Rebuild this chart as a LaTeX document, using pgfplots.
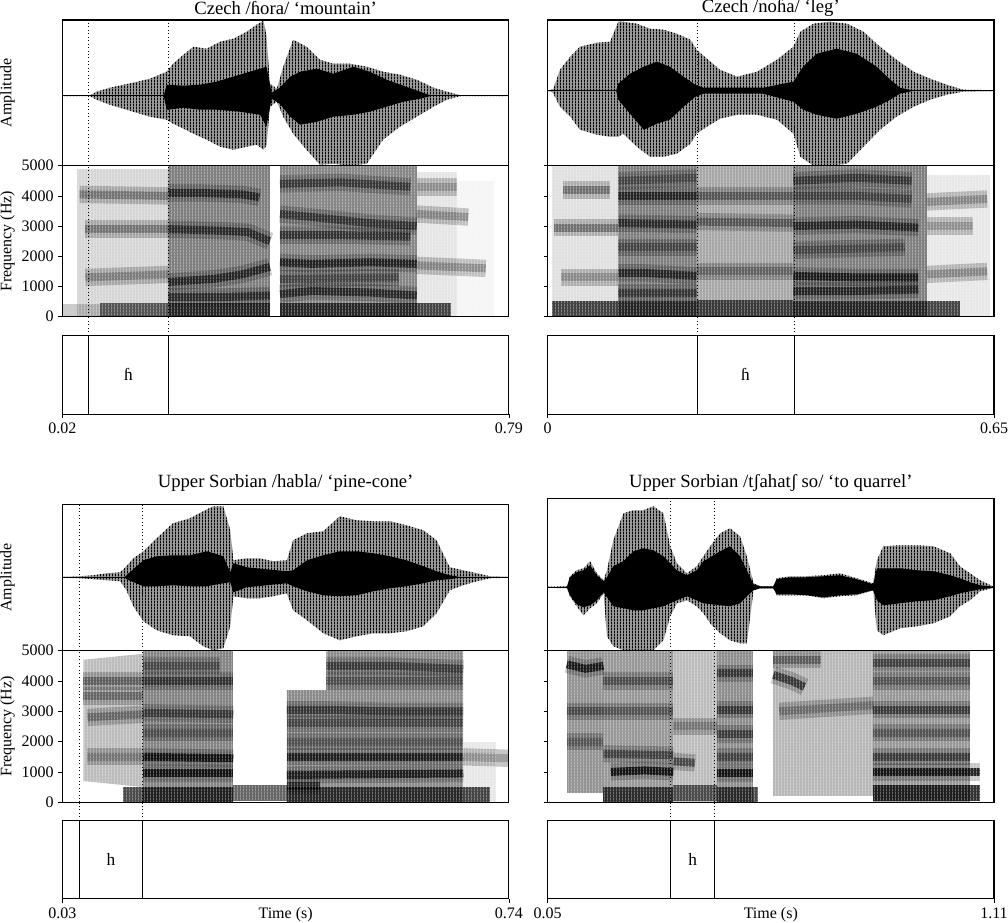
\documentclass[border=0pt]{standalone}
\usepackage{fontspec}
\setmainfont{Liberation Serif}
\usepackage{pgfplots}
\pgfplotsset{compat=1.18}
\usepackage{pgfplotstable}
\usepgfplotslibrary{fillbetween}
\usetikzlibrary{patterns}

\pgfdeclarepatternformonly{pulses}{\pgfqpoint{0pt}{0pt}}{\pgfqpoint{2.3pt}{2pt}}{\pgfqpoint{2.3pt}{2pt}}{\pgfpathrectangle{\pgfqpoint{0pt}{0pt}}{\pgfqpoint{0.85pt}{2pt}}\pgfusepath{fill}}
\pgfdeclarepatternformonly{striae}{\pgfqpoint{0pt}{0pt}}{\pgfqpoint{1.9pt}{2pt}}{\pgfqpoint{1.9pt}{2pt}}{\pgfpathrectangle{\pgfqpoint{0pt}{0pt}}{\pgfqpoint{0.55pt}{2pt}}\pgfusepath{fill}}

% ---------- waveform envelopes (t, upper, lower) ----------
\pgfplotstableread{
t u l
0.020 0.5 -0.5
0.068 0.5 -0.5
0.079 4 -4
0.102 8 -9
0.142 13 -16
0.171 17 -21
0.200 24 -24
0.211 32 -28
0.229 41 -33
0.246 49 -38
0.269 47 -44
0.292 54 -51
0.315 57 -54
0.338 64 -51
0.355 71 -49
0.367 75 -54
0.372 60 -50
0.378 12 -11
0.390 7 -6
0.401 29 -21
0.418 56 -38
0.441 49 -54
0.464 36 -69
0.487 32 -68
0.516 32 -70
0.545 29 -68
0.573 24 -44
0.602 21 -31
0.631 16 -21
0.660 8 -11
0.683 4 -4
0.706 0.5 -0.5
0.790 0.5 -0.5
}\TLo
\pgfplotstableread{
t u l
0.195 0.5 -0.5
0.200 11 -14
0.229 10 -12
0.257 11 -14
0.286 14 -14
0.326 21 -16
0.361 27 -19
0.372 29 -31
0.381 3 -3
0.395 8 -8
0.413 19 -21
0.430 24 -29
0.459 27 -26
0.487 22 -21
0.522 29 -19
0.550 24 -16
0.579 16 -11
0.608 10 -6
0.637 4 -3
0.654 0.5 -0.5
}\TLi
\pgfplotstableread{
t u l
0.000 0.5 -0.5
0.006 1 -1
0.0085 2 -3
0.018 21 -16
0.033 34 -26
0.047 44 -39
0.072 48 -44
0.091 49 -46
0.103 69 -46
0.110 69 -43
0.130 67 -56
0.149 62 -66
0.169 61 -66
0.188 57 -63
0.208 51 -53
0.217 41 -43
0.232 32 -36
0.251 21 -28
0.276 14 -24
0.305 19 -24
0.334 31 -29
0.358 44 -43
0.368 59 -66
0.387 67 -75
0.411 69 -75
0.436 67 -73
0.460 59 -56
0.484 44 -39
0.508 31 -26
0.533 19 -16
0.557 12 -9
0.581 6 -4
0.605 1 -1
0.650 0.5 -0.5
}\TRo
\pgfplotstableread{
t u l
0.100 0.5 -0.5
0.103 7 -9
0.120 17 -23
0.140 24 -39
0.159 29 -33
0.178 24 -29
0.198 14 -16
0.215 6 -6
0.227 3 -3
0.314 3 -3
0.358 9 -11
0.372 24 -19
0.392 37 -24
0.421 42 -28
0.450 37 -23
0.479 24 -16
0.499 11 -9
0.513 3 -3
0.530 0.5 -0.5
}\TRi
\pgfplotstableread{
t u l
0.030 0.5 -0.5
0.058 1 -1
0.079 2 -2
0.101 4 -3
0.122 5 -4
0.132 11 -13
0.143 19 -29
0.159 26 -44
0.180 39 -53
0.206 54 -58
0.233 59 -59
0.254 66 -69
0.270 71 -73
0.286 71 -71
0.297 47 -49
0.302 17 -19
0.323 19 -21
0.344 19 -21
0.365 16 -19
0.387 17 -16
0.397 37 -33
0.419 44 -43
0.445 46 -56
0.471 61 -63
0.498 57 -59
0.524 56 -56
0.551 56 -56
0.577 52 -54
0.604 47 -49
0.625 37 -36
0.646 10 -13
0.667 7 -8
0.689 4 -4
0.710 1 -1
0.740 0.5 -0.5
}\BLo
\pgfplotstableread{
t u l
0.130 0.5 -0.5
0.132 2 -2
0.159 17 -9
0.180 21 -9
0.206 22 -8
0.233 22 -9
0.260 26 -9
0.286 21 -6
0.297 5 -5
0.302 14 -15
0.323 10 -10
0.387 6 -6
0.397 7 -9
0.419 17 -14
0.445 22 -18
0.471 26 -19
0.498 26 -18
0.524 24 -14
0.551 21 -11
0.577 17 -9
0.604 11 -6
0.625 6 -3
0.646 2 -2
0.660 0.5 -0.5
}\BLi
\pgfplotstableread{
t u l
0.050 0.5 -0.5
0.096 1 -1
0.103 11 -9
0.119 17 -19
0.135 19 -28
0.151 26 -21
0.167 14 -16
0.183 7 -6
0.191 17 -49
0.206 47 -59
0.230 74 -63
0.254 77 -63
0.277 77 -63
0.301 81 -63
0.325 74 -53
0.341 41 -29
0.357 24 -16
0.381 14 -13
0.404 21 -19
0.420 31 -26
0.436 41 -36
0.460 54 -46
0.483 59 -53
0.507 51 -56
0.523 31 -56
0.539 4 -3
0.555 1 -1
0.586 1 -1
0.594 9 -8
0.626 11 -8
0.665 11 -8
0.705 12 -11
0.744 14 -9
0.784 9 -8
0.823 4 -3
0.832 27 -43
0.847 41 -48
0.887 42 -41
0.927 42 -39
0.966 41 -36
1.006 34 -29
1.029 21 -19
1.053 14 -13
1.077 7 -4
1.110 0.5 -0.5
}\BRo
\pgfplotstableread{
t u l
0.096 0.5 -0.5
0.103 10 -8
0.119 15 -17
0.135 17 -20
0.151 22 -18
0.167 12 -13
0.183 6 -5
0.191 10 -10
0.206 21 -19
0.230 26 -21
0.254 36 -23
0.277 39 -23
0.301 37 -21
0.325 31 -19
0.357 17 -13
0.381 12 -9
0.404 17 -13
0.420 26 -16
0.460 36 -18
0.483 41 -19
0.507 31 -16
0.523 17 -9
0.539 3 -3
0.555 1 -1
0.586 1 -1
0.594 8 -7
0.626 10 -7
0.665 10 -8
0.705 11 -10
0.744 12 -8
0.784 8 -7
0.823 3 -3
0.832 19 -13
0.847 19 -18
0.887 19 -16
0.927 17 -14
0.966 16 -13
1.006 12 -9
1.029 9 -6
1.053 5 -4
1.077 2 -2
1.110 0.5 -0.5
}\BRi

\pgfplotsset{
  base/.style={scale only axis, axis on top, anchor=north west,
    axis line style={line width=0.8pt}, tick style={black, line width=0.6pt},
    ticklabel style={font=\fontsize{12}{14}\selectfont},
    label style={font=\fontsize{12}{14}\selectfont},
    every axis title/.style={font=\fontsize{14}{16}\selectfont, anchor=center},
    /pgf/number format/assume math mode=true, xtick=\empty, ytick=\empty},
  spec/.style={base, ymin=0, ymax=5000, ytick={0,1000,2000,3000,4000,5000},
    ytick pos=left, tick align=outside, major tick length=3pt},
  tier/.style={base, ymin=0, ymax=1, xtick pos=left, tick align=outside,
    major tick length=3pt, clip=false},
  fm/.style={draw=black, line width=6pt, line cap=butt, opacity=#1,
    preaction={draw=black, line width=13pt, line cap=butt, opacity=0.22}},
  vb/.style={draw=black, line width=12pt, line cap=butt, opacity=#1},
  reg/.style={fill=black!#1, draw=none},
  str/.style={draw=none, pattern=striae, pattern color=white, opacity=0.5},
  dl/.style={dotted, line width=0.6pt, black},
  bd/.style={black, line width=0.6pt},
}

\begin{document}
\begin{tikzpicture}

% ================= TOP LEFT =================
\begin{axis}[base, at={(46.7pt,-15pt)}, width=335pt, height=109.3pt,
  xmin=0.02, xmax=0.79, ymin=-70, ymax=75.7,
  title={Czech /ɦora/ ‘mountain’}, title style={at={(axis description cs:0.5,1.082)}},
  ylabel={Amplitude}, ylabel style={at={(axis description cs:-0.1227,0.5)}, anchor=center}]
\addplot[draw=none, name path=aou] table[x=t,y=u]{\TLo};
\addplot[draw=none, name path=aol] table[x=t,y=l]{\TLo};
\addplot[fill=black!40] fill between[of=aou and aol];
\addplot[pattern=pulses, pattern color=black] fill between[of=aou and aol];
\addplot[draw=none, name path=aiu] table[x=t,y=u]{\TLi};
\addplot[draw=none, name path=ail] table[x=t,y=l]{\TLi};
\addplot[fill=black] fill between[of=aiu and ail];
\addplot[black, line width=0.5pt] coordinates {(0.02,0)(0.79,0)};
\addplot[dl] coordinates {(0.0648,-70)(0.0648,75.7)};
\addplot[dl] coordinates {(0.2031,-70)(0.2031,75.7)};
\end{axis}

\begin{axis}[spec, at={(46.7pt,-124.3pt)}, width=335pt, height=113.2pt,
  xmin=0.02, xmax=0.79, yticklabels={0,1000,2000,3000,4000,5000},
  ylabel={Frequency (Hz)}, ylabel style={at={(axis description cs:-0.1227,0.5)}, anchor=center}]
\addplot[reg=16] coordinates {(0.045,4900)(0.2027,4900)} \closedcycle;
\addplot[reg=50] coordinates {(0.2027,5000)(0.378,5000)} \closedcycle;
\addplot[reg=47] coordinates {(0.3953,5000)(0.631,5000)} \closedcycle;
\addplot[reg=10] coordinates {(0.631,4800)(0.70,4800)} \closedcycle;
\addplot[reg=4] coordinates {(0.70,4500)(0.765,4500)} \closedcycle;
\addplot[fm=0.3] coordinates {(0.05,4050)(0.2027,4000)};
\addplot[fm=0.3] coordinates {(0.06,2900)(0.2027,2900)};
\addplot[fm=0.25] coordinates {(0.06,1300)(0.2027,1400)};
\addplot[vb=0.2] coordinates {(0.02,170)(0.085,170)};
\addplot[vb=0.6] coordinates {(0.085,190)(0.2027,190)};
\addplot[fm=0.6] coordinates {(0.2027,4100)(0.26,4100)(0.33,4050)(0.36,3950)};
\addplot[fm=0.55] coordinates {(0.2027,2900)(0.29,2850)(0.34,2800)(0.378,2500)};
\addplot[fm=0.6] coordinates {(0.2027,1150)(0.28,1250)(0.33,1400)(0.378,1650)};
\addplot[fm=0.55] coordinates {(0.2027,650)(0.30,650)(0.378,700)};
\addplot[vb=0.7] coordinates {(0.2027,190)(0.378,190)};
\addplot[fm=0.45] coordinates {(0.3953,4400)(0.50,4450)(0.62,4300)};
\addplot[fm=0.5] coordinates {(0.3953,3400)(0.45,3300)(0.55,3100)(0.631,3000)};
\addplot[fm=0.5] coordinates {(0.3953,2700)(0.50,2700)(0.62,2650)};
\addplot[fm=0.65] coordinates {(0.3953,1800)(0.45,1750)(0.55,1800)(0.631,1750)};
\addplot[fm=0.35] coordinates {(0.3953,1250)(0.60,1300)};
\addplot[fm=0.6] coordinates {(0.3953,750)(0.45,850)(0.55,800)(0.631,700)};
\addplot[vb=0.7] coordinates {(0.3953,190)(0.69,190)};
\addplot[fm=0.25] coordinates {(0.631,1700)(0.75,1600)};
\addplot[fm=0.25] coordinates {(0.631,3400)(0.72,3300)};
\addplot[fm=0.2] coordinates {(0.631,4300)(0.70,4300)};
\addplot[str] coordinates {(0.045,5000)(0.77,5000)} \closedcycle;
\addplot[dl] coordinates {(0.0648,0)(0.0648,5000)};
\addplot[dl] coordinates {(0.2031,0)(0.2031,5000)};
\end{axis}

\begin{axis}[tier, at={(46.7pt,-251.5pt)}, width=335pt, height=59.25pt,
  xmin=0.02, xmax=0.79, xtick={0.02,0.79}, xticklabels={0.02,0.79}]
\addplot[bd] coordinates {(0.0648,0)(0.0648,1)};
\addplot[bd] coordinates {(0.2031,0)(0.2031,1)};
\addplot[dl] coordinates {(0.0648,1)(0.0648,1.235)};
\addplot[dl] coordinates {(0.2031,1)(0.2031,1.235)};
\node[font=\fontsize{13}{15}\selectfont] at (axis cs:0.134,0.5) {ɦ};
\end{axis}

% ================= TOP RIGHT =================
\begin{axis}[base, at={(410.7pt,-15pt)}, width=334.8pt, height=109.3pt,
  xmin=0, xmax=0.65, ymin=-75, ymax=70.7,
  title={Czech /noɦa/ ‘leg’}, title style={at={(axis description cs:0.5,1.082)}}]
\addplot[draw=none, name path=bou] table[x=t,y=u]{\TRo};
\addplot[draw=none, name path=bol] table[x=t,y=l]{\TRo};
\addplot[fill=black!40] fill between[of=bou and bol];
\addplot[pattern=pulses, pattern color=black] fill between[of=bou and bol];
\addplot[draw=none, name path=biu] table[x=t,y=u]{\TRi};
\addplot[draw=none, name path=bil] table[x=t,y=l]{\TRi};
\addplot[fill=black] fill between[of=biu and bil];
\addplot[black, line width=0.5pt] coordinates {(0,0)(0.65,0)};
\addplot[dl] coordinates {(0.2176,-75)(0.2176,70.7)};
\addplot[dl] coordinates {(0.359,-75)(0.359,70.7)};
\end{axis}

\begin{axis}[spec, at={(410.7pt,-124.3pt)}, width=334.8pt, height=113.2pt,
  xmin=0, xmax=0.65, yticklabels={}]
\addplot[reg=12] coordinates {(0.006,5000)(0.103,5000)} \closedcycle;
\addplot[reg=50] coordinates {(0.103,5000)(0.217,5000)} \closedcycle;
\addplot[reg=34] coordinates {(0.217,5000)(0.358,5000)} \closedcycle;
\addplot[reg=50] coordinates {(0.358,5000)(0.552,5000)} \closedcycle;
\addplot[reg=9] coordinates {(0.552,4700)(0.644,4700)} \closedcycle;
\addplot[vb=0.7] coordinates {(0.006,250)(0.103,250)};
\addplot[fm=0.35] coordinates {(0.023,4200)(0.091,4200)};
\addplot[fm=0.35] coordinates {(0.010,2950)(0.103,2950)};
\addplot[fm=0.2] coordinates {(0.02,1300)(0.103,1300)};
\addplot[fm=0.6] coordinates {(0.103,4000)(0.16,4000)(0.217,4000)};
\addplot[fm=0.3] coordinates {(0.103,4500)(0.217,4600)};
\addplot[fm=0.55] coordinates {(0.103,3100)(0.217,3050)};
\addplot[fm=0.3] coordinates {(0.103,2300)(0.217,2300)};
\addplot[fm=0.6] coordinates {(0.103,1450)(0.14,1450)(0.217,1350)};
\addplot[fm=0.45] coordinates {(0.103,800)(0.217,800)};
\addplot[vb=0.7] coordinates {(0.103,250)(0.217,250)};
\addplot[fm=0.35] coordinates {(0.217,4000)(0.358,4000)};
\addplot[fm=0.35] coordinates {(0.217,3150)(0.358,3100)};
\addplot[fm=0.25] coordinates {(0.217,1500)(0.358,1500)};
\addplot[vb=0.65] coordinates {(0.217,280)(0.358,280)};
\addplot[fm=0.45] coordinates {(0.358,4500)(0.45,4600)(0.53,4500)};
\addplot[fm=0.35] coordinates {(0.358,4000)(0.45,4000)(0.53,3900)};
\addplot[fm=0.6] coordinates {(0.358,3000)(0.45,3050)(0.54,2950)};
\addplot[fm=0.3] coordinates {(0.358,2200)(0.52,2300)};
\addplot[fm=0.7] coordinates {(0.358,1350)(0.45,1300)(0.54,1300)};
\addplot[fm=0.6] coordinates {(0.358,850)(0.45,850)(0.54,900)};
\addplot[vb=0.7] coordinates {(0.358,250)(0.60,250)};
\addplot[fm=0.25] coordinates {(0.552,3800)(0.64,3900)};
\addplot[fm=0.25] coordinates {(0.552,1400)(0.64,1500)};
\addplot[fm=0.2] coordinates {(0.552,3000)(0.62,3000)};
\addplot[str] coordinates {(0.006,5000)(0.645,5000)} \closedcycle;
\addplot[dl] coordinates {(0.2176,0)(0.2176,5000)};
\addplot[dl] coordinates {(0.359,0)(0.359,5000)};
\end{axis}

\begin{axis}[tier, at={(410.7pt,-251.5pt)}, width=334.8pt, height=59.25pt,
  xmin=0, xmax=0.65, xtick={0,0.65}, xticklabels={0,0.65}]
\addplot[bd] coordinates {(0.2176,0)(0.2176,1)};
\addplot[bd] coordinates {(0.359,0)(0.359,1)};
\addplot[dl] coordinates {(0.2176,1)(0.2176,1.235)};
\addplot[dl] coordinates {(0.359,1)(0.359,1.235)};
\node[font=\fontsize{13}{15}\selectfont] at (axis cs:0.288,0.5) {ɦ};
\end{axis}

% ================= BOTTOM LEFT =================
\begin{axis}[base, at={(46.7pt,-378.5pt)}, width=335pt, height=109.5pt,
  xmin=0.03, xmax=0.74, ymin=-73.4, ymax=72.6,
  title={Upper Sorbian /habla/ ‘pine-cone’}, title style={at={(axis description cs:0.5,1.149)}},
  ylabel={Amplitude}, ylabel style={at={(axis description cs:-0.1227,0.5)}, anchor=center}]
\addplot[draw=none, name path=cou] table[x=t,y=u]{\BLo};
\addplot[draw=none, name path=col] table[x=t,y=l]{\BLo};
\addplot[fill=black!40] fill between[of=cou and col];
\addplot[pattern=pulses, pattern color=black] fill between[of=cou and col];
\addplot[draw=none, name path=ciu] table[x=t,y=u]{\BLi};
\addplot[draw=none, name path=cil] table[x=t,y=l]{\BLi};
\addplot[fill=black] fill between[of=ciu and cil];
\addplot[black, line width=0.5pt] coordinates {(0.03,0)(0.74,0)};
\addplot[dl] coordinates {(0.057,-73.4)(0.057,72.6)};
\addplot[dl] coordinates {(0.158,-73.4)(0.158,72.6)};
\end{axis}

\begin{axis}[spec, at={(46.7pt,-488pt)}, width=335pt, height=113.7pt,
  xmin=0.03, xmax=0.74, yticklabels={0,1000,2000,3000,4000,5000},
  ylabel={Frequency (Hz)}, ylabel style={at={(axis description cs:-0.1227,0.5)}, anchor=center}]
\addplot[reg=26] coordinates {(0.0634,700)(0.0634,4700)(0.1587,4900)(0.1587,500)} -- cycle;
\addplot[reg=48] coordinates {(0.1587,5000)(0.3018,5000)} \closedcycle;
\addplot[reg=45] coordinates {(0.387,0)(0.387,3700)(0.4497,3700)(0.4497,5000)(0.6674,5000)(0.6674,0)} -- cycle;
\addplot[reg=9] coordinates {(0.6674,2000)(0.72,2000)} \closedcycle;
\addplot[fm=0.35] coordinates {(0.0634,4000)(0.1587,4000)};
\addplot[fm=0.3] coordinates {(0.0634,3500)(0.1587,3500)};
\addplot[fm=0.3] coordinates {(0.07,2800)(0.1587,2900)};
\addplot[fm=0.2] coordinates {(0.07,1500)(0.1587,1500)};
\addplot[vb=0.7] coordinates {(0.1264,250)(0.1587,250)};
\addplot[fm=0.5] coordinates {(0.1587,4000)(0.3018,4000)};
\addplot[fm=0.3] coordinates {(0.1587,4500)(0.28,4500)};
\addplot[fm=0.45] coordinates {(0.1587,2950)(0.3018,2900)};
\addplot[fm=0.25] coordinates {(0.1587,2300)(0.3018,2300)};
\addplot[fm=0.8] coordinates {(0.1587,1500)(0.3018,1450)};
\addplot[fm=0.8] coordinates {(0.1587,950)(0.3018,950)};
\addplot[vb=0.75] coordinates {(0.1587,250)(0.3018,250)};
\addplot[vb=0.6] coordinates {(0.3018,300)(0.387,300)};
\addplot[fm=0.45] coordinates {(0.4497,4500)(0.55,4500)(0.6674,4400)};
\addplot[fm=0.3] coordinates {(0.4497,4000)(0.6674,4000)};
\addplot[fm=0.5] coordinates {(0.387,3050)(0.45,3050)(0.55,3000)(0.6674,3000)};
\addplot[fm=0.35] coordinates {(0.387,2600)(0.6674,2600)};
\addplot[fm=0.25] coordinates {(0.387,2000)(0.6674,2000)};
\addplot[fm=0.7] coordinates {(0.387,1500)(0.6674,1500)};
\addplot[fm=0.7] coordinates {(0.387,900)(0.6674,950)};
\addplot[fm=0.6] coordinates {(0.387,550)(0.44,550)};
\addplot[vb=0.7] coordinates {(0.387,250)(0.7098,250)};
\addplot[fm=0.2] coordinates {(0.6674,1500)(0.74,1450)};
\addplot[str] coordinates {(0.06,5000)(0.72,5000)} \closedcycle;
\addplot[dl] coordinates {(0.057,0)(0.057,5000)};
\addplot[dl] coordinates {(0.158,0)(0.158,5000)};
\end{axis}

\begin{axis}[tier, at={(46.7pt,-615.5pt)}, width=335pt, height=58.7pt,
  xmin=0.03, xmax=0.74, xtick={0.03,0.74}, xticklabels={0.03,0.74},
  xlabel={Time (s)}, xlabel style={at={(axis description cs:0.5,0)}, anchor=north, yshift=-3pt}]
\addplot[bd] coordinates {(0.057,0)(0.057,1)};
\addplot[bd] coordinates {(0.158,0)(0.158,1)};
\addplot[dl] coordinates {(0.057,1)(0.057,1.235)};
\addplot[dl] coordinates {(0.158,1)(0.158,1.235)};
\node[font=\fontsize{13}{15}\selectfont] at (axis cs:0.1075,0.5) {h};
\end{axis}

% ================= BOTTOM RIGHT =================
\begin{axis}[base, at={(410.7pt,-374pt)}, width=334.8pt, height=114pt,
  xmin=0.05, xmax=1.11, ymin=-63.4, ymax=88.6,
  title={Upper Sorbian /tʃahatʃ so/ ‘to quarrel’}, title style={at={(axis description cs:0.5,1.103)}}]
\addplot[draw=none, name path=dou] table[x=t,y=u]{\BRo};
\addplot[draw=none, name path=dol] table[x=t,y=l]{\BRo};
\addplot[fill=black!40] fill between[of=dou and dol];
\addplot[pattern=pulses, pattern color=black] fill between[of=dou and dol];
\addplot[draw=none, name path=diu] table[x=t,y=u]{\BRi};
\addplot[draw=none, name path=dil] table[x=t,y=l]{\BRi};
\addplot[fill=black] fill between[of=diu and dil];
\addplot[black, line width=0.5pt] coordinates {(0.05,0)(1.11,0)};
\addplot[dl] coordinates {(0.342,-63.4)(0.342,86)};
\addplot[dl] coordinates {(0.447,-63.4)(0.447,86)};
\end{axis}

\begin{axis}[spec, at={(410.7pt,-488pt)}, width=334.8pt, height=113.7pt,
  xmin=0.05, xmax=1.11, yticklabels={}]
\addplot[reg=42] coordinates {(0.0956,300)(0.0956,5000)(0.1825,5000)(0.1825,300)} -- cycle;
\addplot[reg=40] coordinates {(0.1825,5000)(0.3487,5000)} \closedcycle;
\addplot[reg=26] coordinates {(0.3487,5000)(0.4517,5000)} \closedcycle;
\addplot[reg=44] coordinates {(0.4517,5000)(0.5386,5000)} \closedcycle;
\addplot[reg=28] coordinates {(0.586,200)(0.586,5000)(0.8234,5000)(0.8234,200)} -- cycle;
\addplot[reg=40] coordinates {(0.8234,5000)(1.0531,5000)} \closedcycle;
\addplot[fm=0.75] coordinates {(0.0956,4550)(0.14,4400)(0.1825,4500)};
\addplot[fm=0.35] coordinates {(0.0956,3000)(0.1825,3000)};
\addplot[fm=0.25] coordinates {(0.0956,2000)(0.1825,2000)};
\addplot[fm=0.35] coordinates {(0.1825,4000)(0.3487,4000)};
\addplot[fm=0.3] coordinates {(0.1825,3000)(0.3487,3000)};
\addplot[fm=0.45] coordinates {(0.1825,1600)(0.3487,1550)};
\addplot[fm=0.8] coordinates {(0.20,1000)(0.28,1050)(0.3487,1000)};
\addplot[vb=0.7] coordinates {(0.1825,250)(0.3487,250)};
\addplot[fm=0.5] coordinates {(0.3487,1350)(0.40,1300)};
\addplot[fm=0.2] coordinates {(0.3487,2500)(0.4517,2500)};
\addplot[vb=0.6] coordinates {(0.3487,300)(0.4517,300)};
\addplot[fm=0.5] coordinates {(0.4517,4250)(0.5386,4250)};
\addplot[fm=0.5] coordinates {(0.4517,3050)(0.5386,3050)};
\addplot[fm=0.45] coordinates {(0.4517,2250)(0.5386,2250)};
\addplot[fm=0.4] coordinates {(0.4517,1500)(0.5386,1500)};
\addplot[fm=0.8] coordinates {(0.4517,950)(0.5386,950)};
\addplot[vb=0.7] coordinates {(0.4517,250)(0.55,250)};
\addplot[fm=0.6] coordinates {(0.586,4200)(0.63,4000)(0.66,3800)};
\addplot[fm=0.35] coordinates {(0.586,4700)(0.70,4700)};
\addplot[fm=0.25] coordinates {(0.60,3000)(0.8234,3200)};
\addplot[fm=0.45] coordinates {(0.8234,4600)(1.0531,4600)};
\addplot[fm=0.3] coordinates {(0.8234,4000)(1.0531,4000)};
\addplot[fm=0.5] coordinates {(0.8234,3050)(1.0531,3050)};
\addplot[fm=0.3] coordinates {(0.8234,2300)(1.0531,2300)};
\addplot[fm=0.5] coordinates {(0.8234,1500)(1.0531,1500)};
\addplot[fm=0.8] coordinates {(0.8234,1000)(1.077,1000)};
\addplot[vb=0.8] coordinates {(0.8234,300)(1.077,300)};
\addplot[str] coordinates {(0.09,5000)(1.08,5000)} \closedcycle;
\addplot[dl] coordinates {(0.342,0)(0.342,5000)};
\addplot[dl] coordinates {(0.447,0)(0.447,5000)};
\end{axis}

\begin{axis}[tier, at={(410.7pt,-615.5pt)}, width=334.8pt, height=58.7pt,
  xmin=0.05, xmax=1.11, xtick={0.05,1.11}, xticklabels={0.05,1.11},
  xlabel={Time (s)}, xlabel style={at={(axis description cs:0.5,0)}, anchor=north, yshift=-3pt}]
\addplot[bd] coordinates {(0.342,0)(0.342,1)};
\addplot[bd] coordinates {(0.447,0)(0.447,1)};
\addplot[dl] coordinates {(0.342,1)(0.342,1.235)};
\addplot[dl] coordinates {(0.447,1)(0.447,1.235)};
\node[font=\fontsize{13}{15}\selectfont] at (axis cs:0.3945,0.5) {h};
\end{axis}

\pgfresetboundingbox
\path[use as bounding box] (0pt,0pt) rectangle (756pt,-692.25pt);
\end{tikzpicture}
\end{document}
